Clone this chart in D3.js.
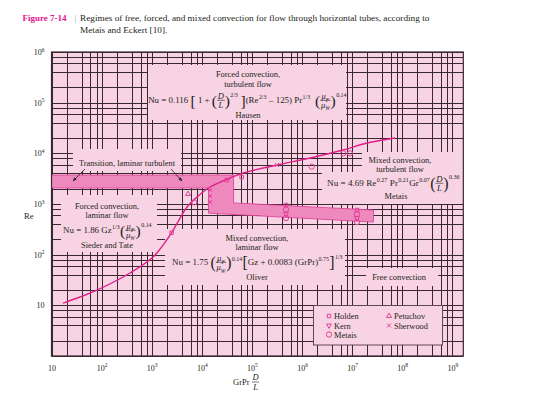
<!DOCTYPE html>
<html><head><meta charset="utf-8">
<script src="https://cdn.jsdelivr.net/npm/d3@7"></script>
<style>
body{margin:0;background:#fff}
svg{display:block}
text{font-family:"Liberation Serif","Times New Roman",serif;fill:#231f20}
</style>
</head><body>
<svg id="c" width="540" height="397"></svg>
<script>
// ---------------- data ----------------
const xTickValues = [1e1,1e2,1e3,1e4,1e5,1e6,1e7,1e8,1e9];
const xTickExponents = [1,2,3,4,5,6,7,8,9];
const yTickValues = [1e1,1e2,1e3,1e4,1e5,1e6];
const yTickExponents = [1,2,3,4,5,6];
const gridMultipliers = [1,2,4,6,8];

// boundary curve between free / mixed / forced regimes
const curveGz = [17, 37, 81, 369, 1062, 2320, 5070, 8020, 14600, 36600, 66400, 317000, 1.45e6, 6.58e6, 1.98e7, 7.18e7];
const curveRe = [11.1, 14.6, 20, 43.5, 90, 244, 873, 1374, 2163, 3260, 4090, 5890, 8090, 11640, 16000, 20100];

// shaded transition region (polygon vertices)
const bandGz = [10, 43000, 43000, 2.67e7, 2.67e7, 13600, 13600, 10];
const bandRe = [3730, 3730, 1050, 760, 440, 660, 2070, 2070];

// experimental points
const seriesNames = ["Holden", "Kern", "Metais", "Petuchov", "Sherwood"];
const holdenGz = [2500, 31400, 62500, 480000, 1.25e7];
const holdenRe = [271, 2970, 3410, 955, 761];
const kernGz = [480000, 1.25e7];
const kernRe = [635, 529];
const metaisGz = [7080, 1.56e6, 6.67e6, 9.08e6, 480000, 480000, 1.25e7, 1.25e7];
const metaisRe = [1080, 5450, 10000, 10000, 778, 529, 635, 441];
const petuchovGz = [5310];
const petuchovRe = [1575];
const sherwoodGz = [14600, 14600, 14600, 317000];
const sherwoodRe = [1890, 1438, 1095, 5880];

// ---------------- layout ----------------
const C = {bg:"#f8d3e3", band:"#ee89bd", bandEdge:"#dc3a93", grid:"#3a2831",
           curve:"#e01f88", marker:"#e0409a", title:"#e0158c"};
const PL = 51.5, PT = 52, PB = 356, DEC = 50.1;
const x = d3.scaleLog().domain([10, Math.pow(10, 9.22)]).range([PL, PL + 8.22*DEC]);
const y = d3.scaleLog().domain([1, 1e6]).range([PB, PT]);
const PR = x.range()[1];
const xr = x.copy().interpolate(d3.interpolateRound);
const yr = y.copy().interpolate(d3.interpolateRound);

const svg = d3.select("#c");

// title
const title = svg.append("text").attr("x", 22.5).attr("y", 21).style("font-size","9px");
title.append("tspan").style("font-weight","bold").style("fill",C.title).text("Figure 7-14");
svg.append("text").attr("x", 74.5).attr("y", 21).style("font-size","9px").style("fill","#999").text("|");
const l1 = svg.append("text").attr("x", 80).attr("y", 21).style("font-size","9px")
  .text("Regimes of free, forced, and mixed convection for flow through horizontal tubes, according to");
const l1w = l1.node().getComputedTextLength();
const tfs = 9 * 350 / l1w;
l1.style("font-size", tfs + "px");
svg.append("text").attr("x", 80).attr("y", 32.5).style("font-size", tfs + "px").text("Metais and Eckert [10].");

// plot background
svg.append("rect").attr("x", PL).attr("y", PT).attr("width", PR-PL).attr("height", PB-PT).attr("fill", C.bg);

// grid
const gridX = [], gridY = [];
for (let k = 1; k <= 9; k++) for (const m of gridMultipliers) { const v = m*Math.pow(10,k); if (v <= x.domain()[1]) gridX.push(v); }
for (let k = 0; k <= 6; k++) for (const m of gridMultipliers) { const v = m*Math.pow(10,k); if (v <= 1e6*1.0001) gridY.push(v); }

const gx = svg.append("g").attr("transform", `translate(0,${PB})`)
  .call(d3.axisBottom(xr).tickValues(gridX).tickSize(-(PB-PT)).tickFormat(""));
const gy = svg.append("g").attr("transform", `translate(${PL},0)`)
  .call(d3.axisLeft(yr).tickValues(gridY).tickSize(-(PR-PL)).tickFormat(""));
[gx, gy].forEach(g => { g.select(".domain").remove(); g.selectAll("line").attr("stroke", C.grid).attr("stroke-width", 1); });

// clear areas behind annotations
const clearBoxes = [
  [148, 65, 198, 55],    // Hausen
  [73, 149, 108, 22],    // transition label
  [61, 195, 96, 57],     // Sieder & Tate
  [165, 229, 180, 56],   // Oliver
  [322, 172, PR-322, 32],// Metais formula
  [362, 152, PR-362, 21],// Metais title
  [366, 268, 72, 18],    // free convection
  [313, 305, 130, 40]    // legend
];
svg.append("g").selectAll("rect").data(clearBoxes).join("rect")
  .attr("x", d=>d[0]).attr("y", d=>d[1]).attr("width", d=>d[2]).attr("height", d=>d[3]).attr("fill", C.bg);

// shaded band
const bandPts = bandGz.map((g,i)=>[x(g), y(bandRe[i])]);
svg.append("path").attr("d", d3.line()(bandPts) + "Z")
  .attr("fill", C.band).attr("stroke", C.bandEdge).attr("stroke-width", 0.8);

// boundary curve
const curvePts = curveGz.map((g,i)=>[x(g), y(curveRe[i])]);
svg.append("path").attr("d", d3.line().curve(d3.curveCatmullRom.alpha(0.5))(curvePts))
  .attr("fill","none").attr("stroke", C.curve).attr("stroke-width", 1.4);

// markers
const symbols = {
  Holden: {t: d3.symbolSquare2, s: 16, r: 0},
  Kern: {t: d3.symbolTriangle2, s: 18, r: 180},
  Metais: {t: d3.symbolCircle, s: 22, r: 0},
  Petuchov: {t: d3.symbolTriangle2, s: 18, r: 0},
  Sherwood: {t: d3.symbolTimes, s: 12, r: 0}
};
const seriesData = {
  Holden: [holdenGz, holdenRe], Kern: [kernGz, kernRe], Metais: [metaisGz, metaisRe],
  Petuchov: [petuchovGz, petuchovRe], Sherwood: [sherwoodGz, sherwoodRe]
};
function drawSym(g, name, px, py) {
  const s = symbols[name];
  g.append("path").attr("d", d3.symbol(s.t, s.s)())
    .attr("transform", `translate(${px},${py}) rotate(${s.r})`)
    .attr("fill","none").attr("stroke", C.marker).attr("stroke-width", 1);
}
const mg = svg.append("g");
seriesNames.forEach(n => {
  const [gz, re] = seriesData[n];
  gz.forEach((g,i)=>drawSym(mg, n, x(g), y(re[i])));
});

// rich text helpers
function richPart(textSel, p, fs) {
  textSel.append("tspan").style("font-style","italic").text(p.m);
  if (p.s) textSel.append("tspan").attr("dy", fs*0.3).style("font-size",(fs*0.65)+"px").style("font-style","italic").text(p.s);
}
function layoutFormula(grp, parts, fs) {
  grp.selectAll("*").remove();
  let cur = 0;
  parts.forEach(p => {
    if (p.t !== undefined) {
      const t = grp.append("text").attr("x", cur).attr("y", 0).style("font-size", fs+"px")
        .text(p.t.replace(/ /g, "\u00a0"));
      cur += t.node().getComputedTextLength();
    } else if (p.sup !== undefined) {
      const t = grp.append("text").attr("x", cur+0.4).attr("y", p.hi ? -fs*0.72 : -fs*0.45)
        .style("font-size",(fs*0.66)+"px").text(p.sup);
      cur += t.node().getComputedTextLength() + 0.8;
    } else if (p.big !== undefined) {
      const t = grp.append("text").attr("x", cur).attr("y", fs*0.33).style("font-size",(fs*1.75)+"px").text(p.big);
      cur += t.node().getComputedTextLength();
    } else if (p.frac) {
      const ffs = fs*0.95;
      const n = grp.append("text").attr("y", -fs*0.45).style("font-size", ffs+"px").attr("text-anchor","middle");
      richPart(n, p.frac[0], ffs);
      const d = grp.append("text").attr("y", fs*0.55).style("font-size", ffs+"px").attr("text-anchor","middle");
      richPart(d, p.frac[1], ffs);
      const w = Math.max(n.node().getComputedTextLength(), d.node().getComputedTextLength()) + 1.5;
      n.attr("x", cur + w/2); d.attr("x", cur + w/2);
      grp.append("line").attr("x1", cur).attr("x2", cur + w).attr("y1", -fs*0.3).attr("y2", -fs*0.3)
        .attr("stroke","#231f20").attr("stroke-width",0.6);
      cur += w;
    }
  });
  return cur;
}
function formula(parts, x0, x1, by, fs) {
  const grp = svg.append("g");
  let w = layoutFormula(grp, parts, fs);
  const f2 = Math.max(7.4, Math.min(9.2, fs * (x1 - x0) / w));
  w = layoutFormula(grp, parts, f2);
  grp.attr("transform", `translate(${(x0 + x1)/2 - w/2},${by})`);
}
function label(txt, cx, by, fs) {
  svg.append("text").attr("x", cx).attr("y", by).attr("text-anchor","middle").style("font-size", fs+"px").text(txt);
}

const FS = 8.4;
const muFrac = {frac:[{m:"μ",s:"F"},{m:"μ",s:"W"}]};
const dlFrac = {frac:[{m:"D"},{m:"L"}]};

// Hausen
label("Forced convection,", 248, 77, FS);
label("turbulent flow", 248, 87, FS);
formula([{t:"Nu = 0.116 "},{big:"["},{t:" 1 + "},{big:"("},dlFrac,{big:")"},{sup:"2/3",hi:true},{t:" "},{big:"]"},
  {t:"(Re"},{sup:"2/3"},{t:" – 125) Pr"},{sup:"1/3"},{t:"  "},{big:"("},muFrac,{big:")"},{sup:"0.14",hi:true}], 148, 347, 103, FS);
label("Hausen", 248, 118, FS);

// transition
label("Transition, laminar turbulent", 127, 166, FS);

// Sieder and Tate
label("Forced convection,", 107, 209, FS);
label("laminar flow", 107, 218, FS);
formula([{t:"Nu = 1.86 Gz"},{sup:"1/3"},{big:"("},muFrac,{big:")"},{sup:"0.14",hi:true}], 63, 152, 233, FS);
label("Sieder and Tate", 107, 248, FS);

// Oliver
label("Mixed convection,", 257, 241, FS);
label("laminar flow", 257, 250, FS);
formula([{t:"Nu = 1.75 "},{big:"("},muFrac,{big:")"},{sup:"0.14"},{big:"["},{t:"Gz + 0.0083 (GrPr)"},{sup:"0.75"},{big:"]"},{sup:"1/3",hi:true}], 172, 343, 265, FS);
label("Oliver", 257, 280, FS);

// Metais
label("Mixed convection,", 400, 163, FS);
label("turbulent flow", 400, 172, FS);
formula([{t:"Nu = 4.69 Re"},{sup:"0.27"},{t:" Pr"},{sup:"0.21"},{t:"Gr"},{sup:"0.07"},{big:"("},dlFrac,{big:")"},{sup:"0.36",hi:true}], 327, 460, 186, FS);
label("Metais", 396, 199, FS);

// free convection
label("Free convection", 399, 280, FS);

// arrows
const defs = svg.append("defs");
defs.append("marker").attr("id","ah").attr("viewBox","0 0 10 10").attr("refX",9).attr("refY",5)
  .attr("markerWidth",5).attr("markerHeight",5).attr("orient","auto")
  .append("path").attr("d","M0,1 L10,5 L0,9 Z").attr("fill","#231f20");
[[85,169,73,181],[171,169,182,181]].forEach(a=>{
  svg.append("line").attr("x1",a[0]).attr("y1",a[1]).attr("x2",a[2]).attr("y2",a[3])
    .attr("stroke","#231f20").attr("stroke-width",0.8).attr("marker-end","url(#ah)");
});

// legend
svg.append("rect").attr("x",313.5).attr("y",305.5).attr("width",129).attr("height",39.5)
  .attr("fill","none").attr("stroke",C.grid).attr("stroke-width",0.8);
const legPos = {Holden:[329,316], Kern:[329,325.5], Metais:[329,334.5], Petuchov:[389,316], Sherwood:[389,325.5]};
seriesNames.forEach(n=>{
  const [lx, ly] = legPos[n];
  drawSym(svg, n, lx, ly);
  svg.append("text").attr("x", lx+5).attr("y", ly+3).style("font-size", FS+"px").text(n);
});

// frame
svg.append("rect").attr("x",PL).attr("y",PT).attr("width",PR-PL).attr("height",PB-PT)
  .attr("fill","none").attr("stroke",C.grid).attr("stroke-width",1.2);

// axes labels
const ax = svg.append("g").attr("transform",`translate(0,${PB})`)
  .call(d3.axisBottom(x).tickValues(xTickValues).tickSize(0).tickPadding(9));
ax.select(".domain").remove();
ax.selectAll(".tick text").each(function(d,i){
  const t = d3.select(this).text(null).style("font-size","8px").attr("fill","#231f20");
  t.append("tspan").text("10");
  if (xTickExponents[i] !== 1) t.append("tspan").attr("dy",-3.5).style("font-size","5.5px").text(xTickExponents[i]);
});
const ay = svg.append("g").attr("transform",`translate(${PL-5},0)`)
  .call(d3.axisLeft(y).tickValues(yTickValues).tickSize(0).tickPadding(2));
ay.select(".domain").remove();
ay.selectAll(".tick text").each(function(d,i){
  const t = d3.select(this).text(null).style("font-size","8px").attr("fill","#231f20");
  t.append("tspan").text("10");
  if (yTickExponents[i] !== 1) t.append("tspan").attr("dy",-3.5).style("font-size","5.5px").text(yTickExponents[i]);
});

svg.append("text").attr("x",24).attr("y",219).style("font-size","8.5px").text("Re");
svg.append("text").attr("x",233).attr("y",385).style("font-size","8.5px").text("GrPr");
svg.append("text").attr("x",255.5).attr("y",380).attr("text-anchor","middle").style("font-size","8.5px").style("font-style","italic").text("D");
svg.append("line").attr("x1",252).attr("x2",259).attr("y1",382).attr("y2",382).attr("stroke","#231f20").attr("stroke-width",0.6);
svg.append("text").attr("x",255.5).attr("y",390).attr("text-anchor","middle").style("font-size","8.5px").style("font-style","italic").text("L");
</script>
</body></html>
